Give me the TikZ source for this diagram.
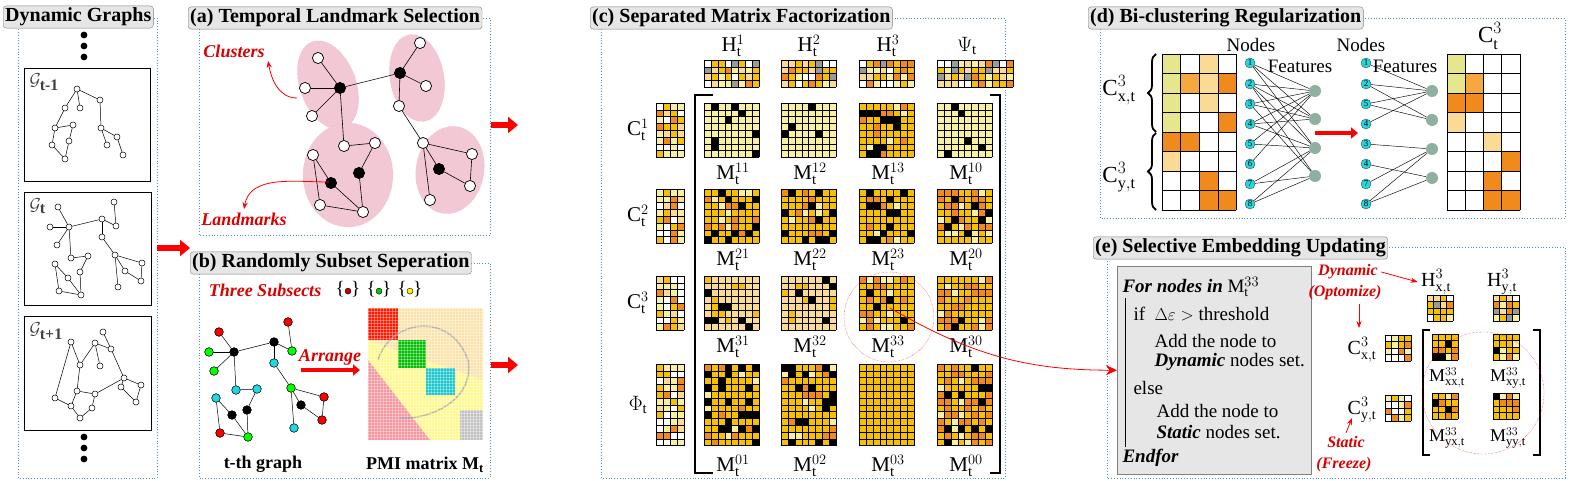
\documentclass[tikz,border=0pt]{standalone}
\usepackage{fontspec}
\setmainfont{Liberation Serif}
\usetikzlibrary{arrows.meta,decorations.pathreplacing,shapes.geometric}
\definecolor{ly}{HTML}{F6F0A0}
\definecolor{gd}{HTML}{F5C000}
\definecolor{orr}{HTML}{F08A1C}
\definecolor{pe}{HTML}{FADB96}
\definecolor{lo}{HTML}{F5A840}
\definecolor{lg}{HTML}{E6E68C}
\definecolor{gy}{HTML}{9A9A9A}
\definecolor{pnk}{HTML}{F2C8D4}
\definecolor{cyn}{HTML}{22D8E0}
\definecolor{fg}{HTML}{8FB0A0}
\definecolor{tbox}{HTML}{E6E6E6}
\definecolor{pblue}{HTML}{4A90C8}
\pgfmathdeclarerandomlist{pa}{{ly}{ly}{ly}{ly}{ly}{ly}{ly}{ly}{ly}{black}}
\pgfmathdeclarerandomlist{pb}{{gd}{gd}{gd}{gd}{gd}{gd}{black}{black}{ly}{orr}}
\pgfmathdeclarerandomlist{pc}{{pe}{pe}{pe}{pe}{pe}{pe}{pe}{black}{gd}}
\pgfmathdeclarerandomlist{pd}{{gd}{gd}{gd}{gd}{orr}{orr}{black}{ly}}
\pgfmathdeclarerandomlist{pg}{{gd}}
\pgfmathdeclarerandomlist{cg}{{white}{ly}{gd}{orr}{white}{ly}{pe}}
\pgfmathdeclarerandomlist{hg}{{white}{ly}{gd}{orr}{pe}{gd}{gy}}
\newcommand\mygrid[7]{%
 \foreach \i in {1,...,#3}{\foreach \j in {1,...,#4}{\pgfmathrandomitem{\cc}{#7}%
  \fill[\cc] ({#1+(\i-1)*#5},{#2+(\j-1)*#6}) rectangle ++(#5,#6);}}%
 \foreach \i in {0,...,#3}{\draw[line width=0.4pt] ({#1+\i*#5},#2) -- ++(0,{#4*#6});}%
 \foreach \j in {0,...,#4}{\draw[line width=0.4pt] (#1,{#2+\j*#6}) -- ++({#3*#5},0);}}
\newcommand\colgrid[6]{% x y cw ch list(4 cols)
 \foreach \c [count=\k from 0] in {#5}{\pgfmathtruncatemacro\ii{mod(\k,4)}\pgfmathtruncatemacro\jj{div(\k,4)}%
  \fill[\c] ({#1+\ii*#3},{#2+\jj*#4}) rectangle ++(#3,#4);}%
 \foreach \i in {0,...,4}{\draw[line width=0.5pt] ({#1+\i*#3},#2) -- ++(0,{#6*#4});}%
 \foreach \j in {0,...,#6}{\draw[line width=0.5pt] (#1,{#2+\j*#4}) -- ++({4*#3},0);}}
\tikzset{
 title/.style={draw=gray,fill=tbox,rounded corners=3pt,font=\fontsize{20}{22}\selectfont\bfseries,inner sep=2pt,anchor=west},
 panel/.style={draw=pblue,dotted,line width=0.8pt},
 gn/.style={circle,draw,fill=white,inner sep=0pt,minimum size=6pt,line width=0.5pt},
 an/.style={circle,draw,fill=white,inner sep=0pt,minimum size=11pt,line width=0.6pt},
 bn/.style={an,fill=black},
 bign/.style={-{Triangle[length=10pt,width=16pt]},red,line width=6pt},
 redarr/.style={-{Stealth[length=7pt]},red,line width=0.8pt},
 rlab/.style={text=red!85!black,font=\fontsize{18}{20}\selectfont\bfseries\itshape},
 lab/.style={font=\fontsize{19}{20}\selectfont},
 elab/.style={font=\fontsize{19}{20}\selectfont,anchor=west},
 dnode/.style={circle,draw=black!70,fill=cyn,inner sep=0pt,minimum size=10pt,font=\fontsize{9}{9}\selectfont},
 fnode/.style={circle,fill=fg,inner sep=0pt,minimum size=12pt},
 ge/.style={line width=0.5pt}
}
\begin{document}
\begin{tikzpicture}[x=1pt,y=-1pt]
\useasboundingbox (0,0) rectangle (1569,481);
\pgfmathsetseed{7}
% ===== panels =====
\draw[panel] (18,18) rectangle (157,478);
\draw[panel] (199,18) rectangle (490,235);
\draw[panel] (199,263) rectangle (490,478);
\draw[panel] (601,18) rectangle (1005,478);
\draw[panel] (1100,18) rectangle (1565,218);
\draw[panel] (1107,247) rectangle (1565,478);
\node[title] (tdg) at (3,17) {Dynamic Graphs};
\node[title] (ta) at (188,18) {(a) Temporal Landmark Selection};
\node[title] (tb) at (190,263) {(b) Randomly Subset Seperation};
\node[title] (tc) at (590,18) {(c) Separated Matrix Factorization};
\node[title] (td) at (1088,18) {(d) Bi-clustering Regularization};
\node[title] (te) at (1093,248) {(e) Selective Embedding Updating};
% ===== dynamic graphs =====
\foreach \yy in {35,46,57,437,448,459}{\fill (84,\yy) circle (3.4pt);}
\draw[line width=0.7pt] (24,68) rectangle (150,181) (24,192) rectangle (151,305) (24,316) rectangle (151,430);
\node[font=\fontsize{16}{16}\selectfont,anchor=west,text=black!75] (g1) at (26,82) {$\mathcal{G}_{\textbf{t-1}}$};
\node[font=\fontsize{16}{16}\selectfont,anchor=west,text=black!75] (g2) at (26,206) {$\mathcal{G}_{\textbf{t}}$};
\node[font=\fontsize{16}{16}\selectfont,anchor=west,text=black!75] (g3) at (26,331) {$\mathcal{G}_{\textbf{t+1}}$};
% graph t-1
\foreach \n/\p in {a/{77,89},b/{65,108},c/{80,108},d/{100,100},e/{55,128},f/{73,125},g/{52,145},h/{69,141},i/{65,159},j/{101,128},k/{117,137},l/{107,145},m/{123,155}}
 \node[gn] (p\n) at (\p) {};
\foreach \u/\v in {a/b,a/c,a/d,b/e,e/f,e/g,f/h,g/i,h/i,d/j,j/k,j/l,k/m} \draw[ge] (p\u)--(p\v);
% graph t
\foreach \n/\p in {a/{58,207},b/{50,227},h/{69,227},c/{57,245},d/{114,202},e/{102,219},f/{116,226},g/{102,237},i/{71,258},j/{88,256},k/{55,264},l/{68,278},m/{80,272},n/{59,291},o/{81,295},p/{115,255},q/{142,263},r/{125,271},s/{141,281},t/{118,287}}
 \node[gn] (q\n) at (\p) {};
\foreach \u/\v in {h/a,h/b,h/c,h/e,d/f,e/f,e/g,g/p,p/q,p/r,r/s,q/s,p/t,h/i,i/j,j/m,m/o,k/n,k/l,l/o,n/o} \draw[ge] (q\u)--(q\v);
% graph t+1
\foreach \n/\p in {a/{71,342},b/{80,365},c/{95,343},d/{103,332},e/{111,349},f/{100,366},g/{124,378},h/{55,398},i/{77,391},j/{95,394},k/{71,406},l/{92,408},m/{80,418},n/{121,387},o/{141,385},p/{136,402}}
 \node[gn] (r\n) at (\p) {};
\foreach \u/\v in {h/a,a/b,b/c,d/e,c/f,c/e,e/g,b/i,h/k,i/j,i/k,k/m,m/l,l/j,j/g,g/n,g/o,n/p,o/p} \draw[ge] (r\u)--(r\v);
\coordinate (dgR) at (157,248);
\coordinate (bL) at (190,248);
\draw[bign] (dgR) -- (bL);
% ===== (a) =====
\fill[pnk,draw=red!40,dotted] (328,85) ellipse [x radius=28,y radius=46,rotate=20];
\fill[pnk,draw=red!40,dotted] (417,78) ellipse [x radius=27,y radius=44,rotate=10];
\fill[pnk,draw=red!40,dotted] (348,175) ellipse [x radius=45,y radius=52];
\fill[pnk,draw=red!40,dotted] (450,170) ellipse [x radius=34,y radius=44,rotate=-10];
\foreach \n/\p/\s in {L1/{340,88}/bn,L2/{400,73}/bn,L3/{331,183}/bn,L4/{359,173}/bn,L5/{439,169}/bn,
 a/{318,58}/an,b/{305,88}/an,c/{312,116}/an,d/{420,43}/an,e/{426,86}/an,f/{399,106}/an,g/{344,146}/an,h/{375,143}/an,
 i/{313,155}/an,j/{320,205}/an,k/{363,212}/an,l/{423,143}/an,m/{472,154}/an,n/{470,186}/an,o/{430,200}/an}
 \node[\s] (A\n) at (\p) {};
\foreach \u/\v in {L1/a,L1/b,L1/c,L1/L2,L2/d,L2/e,L2/f,L1/g,g/h,h/L4,L4/k,i/j,j/k,i/L3,L3/k,f/l,l/m,m/n,n/L5,L5/l,l/o}
 \draw[ge,line width=0.6pt] (A\u)--(A\v);
\foreach \n in {a,b,c,d,e,f,g,h,i,j,k,l,m,n,o} \node[an] at (A\n) {};
\foreach \n in {L1,L2,L3,L4,L5} \node[bn] at (A\n) {};
\node[rlab] (clus) at (234,51) {Clusters};
\node[rlab] (land) at (244,219) {Landmarks};
\coordinate (c1) at (297,98);
\coordinate (c2) at (329,182);
\draw[redarr] (c1) to[out=180,in=-80] (clus.south east);
\draw[redarr] (c2) to[out=180,in=80] (land.north);
% ===== (b) =====
\node[rlab] (three) at (265,290) {Three Subsects};
\node[lab] (s1) at (348,289) {\{\tikz\draw[fill=red!80!black] (0,0) circle (3pt);\}};
\node[lab] (s2) at (379,289) {\{\tikz\draw[fill=green!80!black] (0,0) circle (3pt);\}};
\node[lab] (s3) at (410,289) {\{\tikz\draw[fill=yellow] (0,0) circle (3pt);\}};
\tikzset{bcn/.style={circle,draw,inner sep=0pt,minimum size=8.5pt,fill=#1}}
\foreach \n/\p/\c in {a/{219,332}/red,b/{209,352}/green,h/{234,352}/black,c/{214,371}/green,h2/{274,342}/black,d/{288,322}/red,e/{292,351}/green,f/{274,363}/cyn,g/{236,390}/cyn,i/{257,389}/cyn,j/{216,398}/cyn,k/{232,415}/black,l/{247,410}/black,m/{220,433}/red,n/{248,437}/green,o/{291,388}/green,p/{301,405}/black,q/{324,397}/red,r/{322,420}/red,s/{294,428}/cyn}
 \node[bcn=\c] (B\n) at (\p) {};
\foreach \u/\v in {h/a,h/b,h/c,h/h2,h/g,g/i,d/e,h2/e,h2/f,f/o,o/p,p/r,o/q,q/r,o/s,j/m,j/k,k/n,m/n,n/l,l/i}
 \draw[ge] (B\u)--(B\v);
\foreach \n/\c in {a/red,b/green,h/black,c/green,h2/black,d/red,e/green,f/cyn,g/cyn,i/cyn,j/cyn,k/black,l/black,m/red,n/green,o/green,p/black,q/red,r/red,s/cyn} \node[bcn=\c] at (B\n) {};
\node[rlab] (arr) at (330,357) {Arrange};
\coordinate (arL) at (301,370);
\coordinate (arR) at (360,370);
\draw[-{Triangle[length=7pt,width=11pt]},red,line width=3.5pt] (arL)--(arR);
% PMI matrix
\begin{scope}
\fill[yellow!45] (368,308) rectangle (483,440);
\fill[pe!80] (368,340) -- (400,308) -- (483,308) -- (483,380) -- cycle;
\fill[red!25!pnk] (368,360) -- (430,440) -- (368,440) -- cycle;
\fill[gy!60] (460,410) rectangle (483,440);
\fill[red!80!orange] (368,308) rectangle (398,340);
\fill[green!75!black] (398,340) rectangle (426,368);
\fill[cyn!80!teal] (426,368) rectangle (455,395);
\draw[gy,line width=1.5pt,opacity=0.7] (378,360) .. controls (390,320) and (450,310) .. (468,360) .. controls (475,400) and (430,420) .. (400,418);
\foreach \i in {0,...,38}{\draw[white,opacity=0.35,line width=0.3pt] ({368+\i*3},308) -- ++(0,132);}
\foreach \j in {0,...,44}{\draw[white,opacity=0.35,line width=0.3pt] (368,{308+\j*3}) -- ++(115,0);}
\end{scope}
\node[font=\fontsize{18}{20}\selectfont\bfseries] (tth) at (263,464) {t-th graph};
\node[font=\fontsize{18}{20}\selectfont\bfseries] (pmi) at (425,465) {PMI matrix M$_{\mathbf t}$};
\coordinate (aR) at (491,125); \coordinate (cL1) at (518,125);
\coordinate (bR) at (491,365); \coordinate (cL2) at (518,365);
\draw[bign] (aR)--(cL1);
\draw[bign] (bR)--(cL2);
% ===== (c) =====
\foreach \x/\t in {733/{\mathrm{H}_{\rm t}^{1}},809/{\mathrm{H}_{\rm t}^{2}},888/{\mathrm{H}_{\rm t}^{3}},967/{\Psi_{\rm t}}}
 \node[lab,font=\fontsize{21}{21}\selectfont] at (\x,46) {$\t$};
\mygrid{704}{60}{8}{4}{6.9}{6.8}{hg}
\mygrid{781}{60}{8}{4}{6.9}{6.8}{hg}
\mygrid{859}{60}{8}{4}{6.9}{6.8}{hg}
\mygrid{937}{60}{11}{4}{6.9}{6.8}{hg}
\foreach \y/\t in {130/{\mathrm{C}_{\rm t}^{1}},216/{\mathrm{C}_{\rm t}^{2}},303/{\mathrm{C}_{\rm t}^{3}},405/{\Phi_{\rm t}}}
 \node[lab,font=\fontsize{21}{21}\selectfont] at (638,\y) {$\t$};
\mygrid{656}{103}{4}{8}{7}{6.8}{cg}
\mygrid{656}{189}{4}{8}{7}{6.8}{cg}
\mygrid{656}{276}{4}{8}{7}{6.8}{cg}
\mygrid{656}{364}{4}{12}{7}{6.8}{cg}
\mygrid{704}{103}{8}{8}{6.9}{6.8}{pa}
\mygrid{781}{103}{8}{8}{6.9}{6.8}{pa}
\mygrid{859}{103}{8}{8}{6.9}{6.8}{pb}
\mygrid{937}{103}{8}{8}{6.9}{6.8}{pa}
\mygrid{704}{189}{8}{8}{6.9}{6.8}{pb}
\mygrid{781}{189}{8}{8}{6.9}{6.8}{pb}
\mygrid{859}{189}{8}{8}{6.9}{6.8}{pb}
\mygrid{937}{189}{8}{8}{6.9}{6.8}{pd}
\mygrid{704}{276}{8}{8}{6.9}{6.8}{pc}
\mygrid{781}{276}{8}{8}{6.9}{6.8}{pc}
\mygrid{859}{276}{8}{8}{6.9}{6.8}{pd}
\mygrid{937}{276}{8}{8}{6.9}{6.8}{pd}
\mygrid{704}{364}{8}{12}{6.9}{6.8}{pb}
\mygrid{781}{364}{8}{12}{6.9}{6.8}{pb}
\mygrid{859}{364}{8}{12}{6.9}{6.8}{pg}
\mygrid{937}{364}{8}{12}{6.9}{6.8}{pd}
\foreach \y/\r in {174/1,260/2,347/3,466/0}
 \foreach \x/\c in {733/1,810/2,888/3,966/0}{
  \node[lab,font=\fontsize{21}{21}\selectfont,inner sep=0pt] at (\x,\y) {$\mathrm{M}_{\rm t}^{\r\c}$};}
\draw[line width=1.2pt] (713,95) -- (695,95) -- (695,473) -- (713,473);
\draw[line width=1.2pt] (990,95) -- (1000,95) -- (1000,473) -- (990,473);
\node[circle,draw=red,densely dotted,minimum size=90pt,inner sep=0pt] (circ) at (889,317) {};
\coordinate (m33) at (890,308);
% ===== (d) =====
\node[lab] at (1251,45) {Nodes};
\node[lab] at (1361,45) {Nodes};
\node[lab] at (1300,66) {Features};
\node[lab] at (1405,66) {Features};
\node[lab,font=\fontsize{23}{23}\selectfont] at (1490,36) {$\mathrm{C}_{\rm t}^{3}$};
\node[lab,font=\fontsize{23}{23}\selectfont] (cx) at (1119,90) {$\mathrm{C}_{\rm x,t}^{3}$};
\node[lab,font=\fontsize{23}{23}\selectfont] (cy) at (1119,177) {$\mathrm{C}_{\rm y,t}^{3}$};
\draw[decorate,decoration={brace,amplitude=8pt},line width=1.8pt] (1156,132) -- (1156,54);
\draw[decorate,decoration={brace,amplitude=8pt},line width=1.8pt] (1156,210) -- (1156,133);
\colgrid{1162}{54}{18.6}{19.5}{lg,white,pe,white,lg,lo,pe,orr,lg,white,pe,white,lg,white,white,orr,orr,orr,white,white,pe,white,white,white,white,white,orr,white,white,white,orr,orr}{8}
\colgrid{1447}{54}{18.2}{19.5}{lg,white,white,white,lg,lo,white,white,orr,orr,white,white,pe,white,white,white,white,white,pe,white,white,white,white,orr,white,white,orr,white,white,white,orr,orr}{8}
\foreach \k/\y in {1/63,2/84,3/104,4/124,5/144,6/164,7/184,8/204}
 \node[dnode] (n\k) at (1250,\y) {\k};
\foreach \k/\y in {1/91,2/119,3/148,4/176} \node[fnode] (f\k) at (1315,\y) {};
\foreach \u/\v in {1/1,1/2,1/3,2/1,2/2,2/3,2/4,3/1,3/2,3/4,4/1,4/3,4/2,5/1,5/3,6/1,7/3,7/4,8/3,8/4}
 \draw[line width=0.45pt] (n\u)--(f\v);
\foreach \k/\l/\y in {1/1/63,2/2/84,3/5/104,4/4/124,5/3/144,6/4/164,7/7/184,8/8/204}
 \node[dnode] (m\k) at (1366,\y) {\l};
\foreach \k/\y in {1/91,2/120,3/149,4/178} \node[fnode] (h\k) at (1432,\y) {};
\foreach \u/\v in {1/1,2/1,2/2,3/1,3/2,4/1,5/3,6/4,7/3,8/3,8/4}
 \draw[line width=0.45pt] (m\u)--(h\v);
\coordinate (dA) at (1315,133); \coordinate (dB) at (1358,133);
\draw[-{Triangle[length=7pt,width=11pt]},red,line width=3.5pt] (dA)--(dB);
% ===== (e) =====
\node[draw=gray,fill=tbox,minimum width=194pt,minimum height=208pt,inner sep=0pt,anchor=north west] (algo) at (1117,266) {};
\node[elab] at (1119,287) {\textbf{\textit{For nodes in}} $\mathrm{M}_{\rm t}^{33}$};
\draw[line width=0.8pt] (1125,298) -- (1125,447);
\node[elab] at (1130,314) {if \ $\Delta\varepsilon >$ threshold};
\node[elab] at (1151,341) {Add the node to};
\node[elab] at (1151,362) {\textbf{\textit{Dynamic}} nodes set.};
\node[elab] at (1130,388) {else};
\node[elab] at (1153,411) {Add the node to};
\node[elab] at (1153,432) {\textbf{\textit{Static}} nodes set.};
\node[elab,font=\fontsize{19}{20}\selectfont\bfseries\itshape] at (1119,458) {Endfor};
\draw[redarr,-{Stealth[length=11pt,width=10pt]}] (m33) to[out=-30,in=180] (algo.west);
\node[rlab,font=\fontsize{16}{18}\selectfont\bfseries\itshape] (dyn) at (1348,272) {Dynamic};
\node[rlab,font=\fontsize{16}{18}\selectfont\bfseries\itshape] (opt) at (1345,293) {(Optomize)};
\node[rlab,font=\fontsize{16}{18}\selectfont\bfseries\itshape] (sta) at (1346,442) {Static};
\node[rlab,font=\fontsize{16}{18}\selectfont\bfseries\itshape] (frz) at (1344,465) {(Freeze)};
\node[lab,font=\fontsize{20}{20}\selectfont] (hx) at (1436,282) {$\mathrm{H}_{\rm x,t}^{3}$};
\node[lab,font=\fontsize{20}{20}\selectfont] (hy) at (1502,282) {$\mathrm{H}_{\rm y,t}^{3}$};
\node[lab,font=\fontsize{20}{20}\selectfont] (cxe) at (1362,350) {$\mathrm{C}_{\rm x,t}^{3}$};
\node[lab,font=\fontsize{20}{20}\selectfont] (cye) at (1362,410) {$\mathrm{C}_{\rm y,t}^{3}$};
\coordinate (cx2) at (1359,328); \coordinate (cy2) at (1352,418);
\coordinate (opts) at (1359,304);
\draw[redarr] (dyn.east) -- (hx.west);
\draw[redarr] (opts) -- (cx2);
\draw[redarr] (sta.north) -- (cy2);
\mygrid{1427}{295}{4}{4}{6.5}{6.5}{hg}
\mygrid{1493}{295}{4}{4}{6.5}{6.5}{hg}
\mygrid{1385}{335}{4}{4}{6.5}{6.5}{cg}
\mygrid{1385}{395}{4}{4}{6.5}{6.5}{cg}
\mygrid{1432}{334}{4}{4}{6.5}{6.5}{pd}
\mygrid{1493}{334}{4}{4}{6.5}{6.5}{pd}
\mygrid{1432}{393}{4}{4}{6.5}{6.5}{pd}
\mygrid{1493}{393}{4}{4}{6.5}{6.5}{pd}
\node[lab,font=\fontsize{18}{18}\selectfont,inner sep=0pt] at (1447,378) {$\mathrm{M}_{\rm xx,t}^{33}$};
\node[lab,font=\fontsize{18}{18}\selectfont,inner sep=0pt] at (1508,378) {$\mathrm{M}_{\rm xy,t}^{33}$};
\node[lab,font=\fontsize{18}{18}\selectfont,inner sep=0pt] at (1447,438) {$\mathrm{M}_{\rm yx,t}^{33}$};
\node[lab,font=\fontsize{18}{18}\selectfont,inner sep=0pt] at (1508,438) {$\mathrm{M}_{\rm yy,t}^{33}$};
\draw[line width=1.2pt] (1430,330) -- (1423,330) -- (1423,455) -- (1430,455);
\draw[line width=1.2pt] (1533,330) -- (1540,330) -- (1540,455) -- (1533,455);
\node[circle,draw=red,densely dotted,minimum size=122pt,inner sep=0pt] at (1483,393) {};
\end{tikzpicture}
\end{document}
